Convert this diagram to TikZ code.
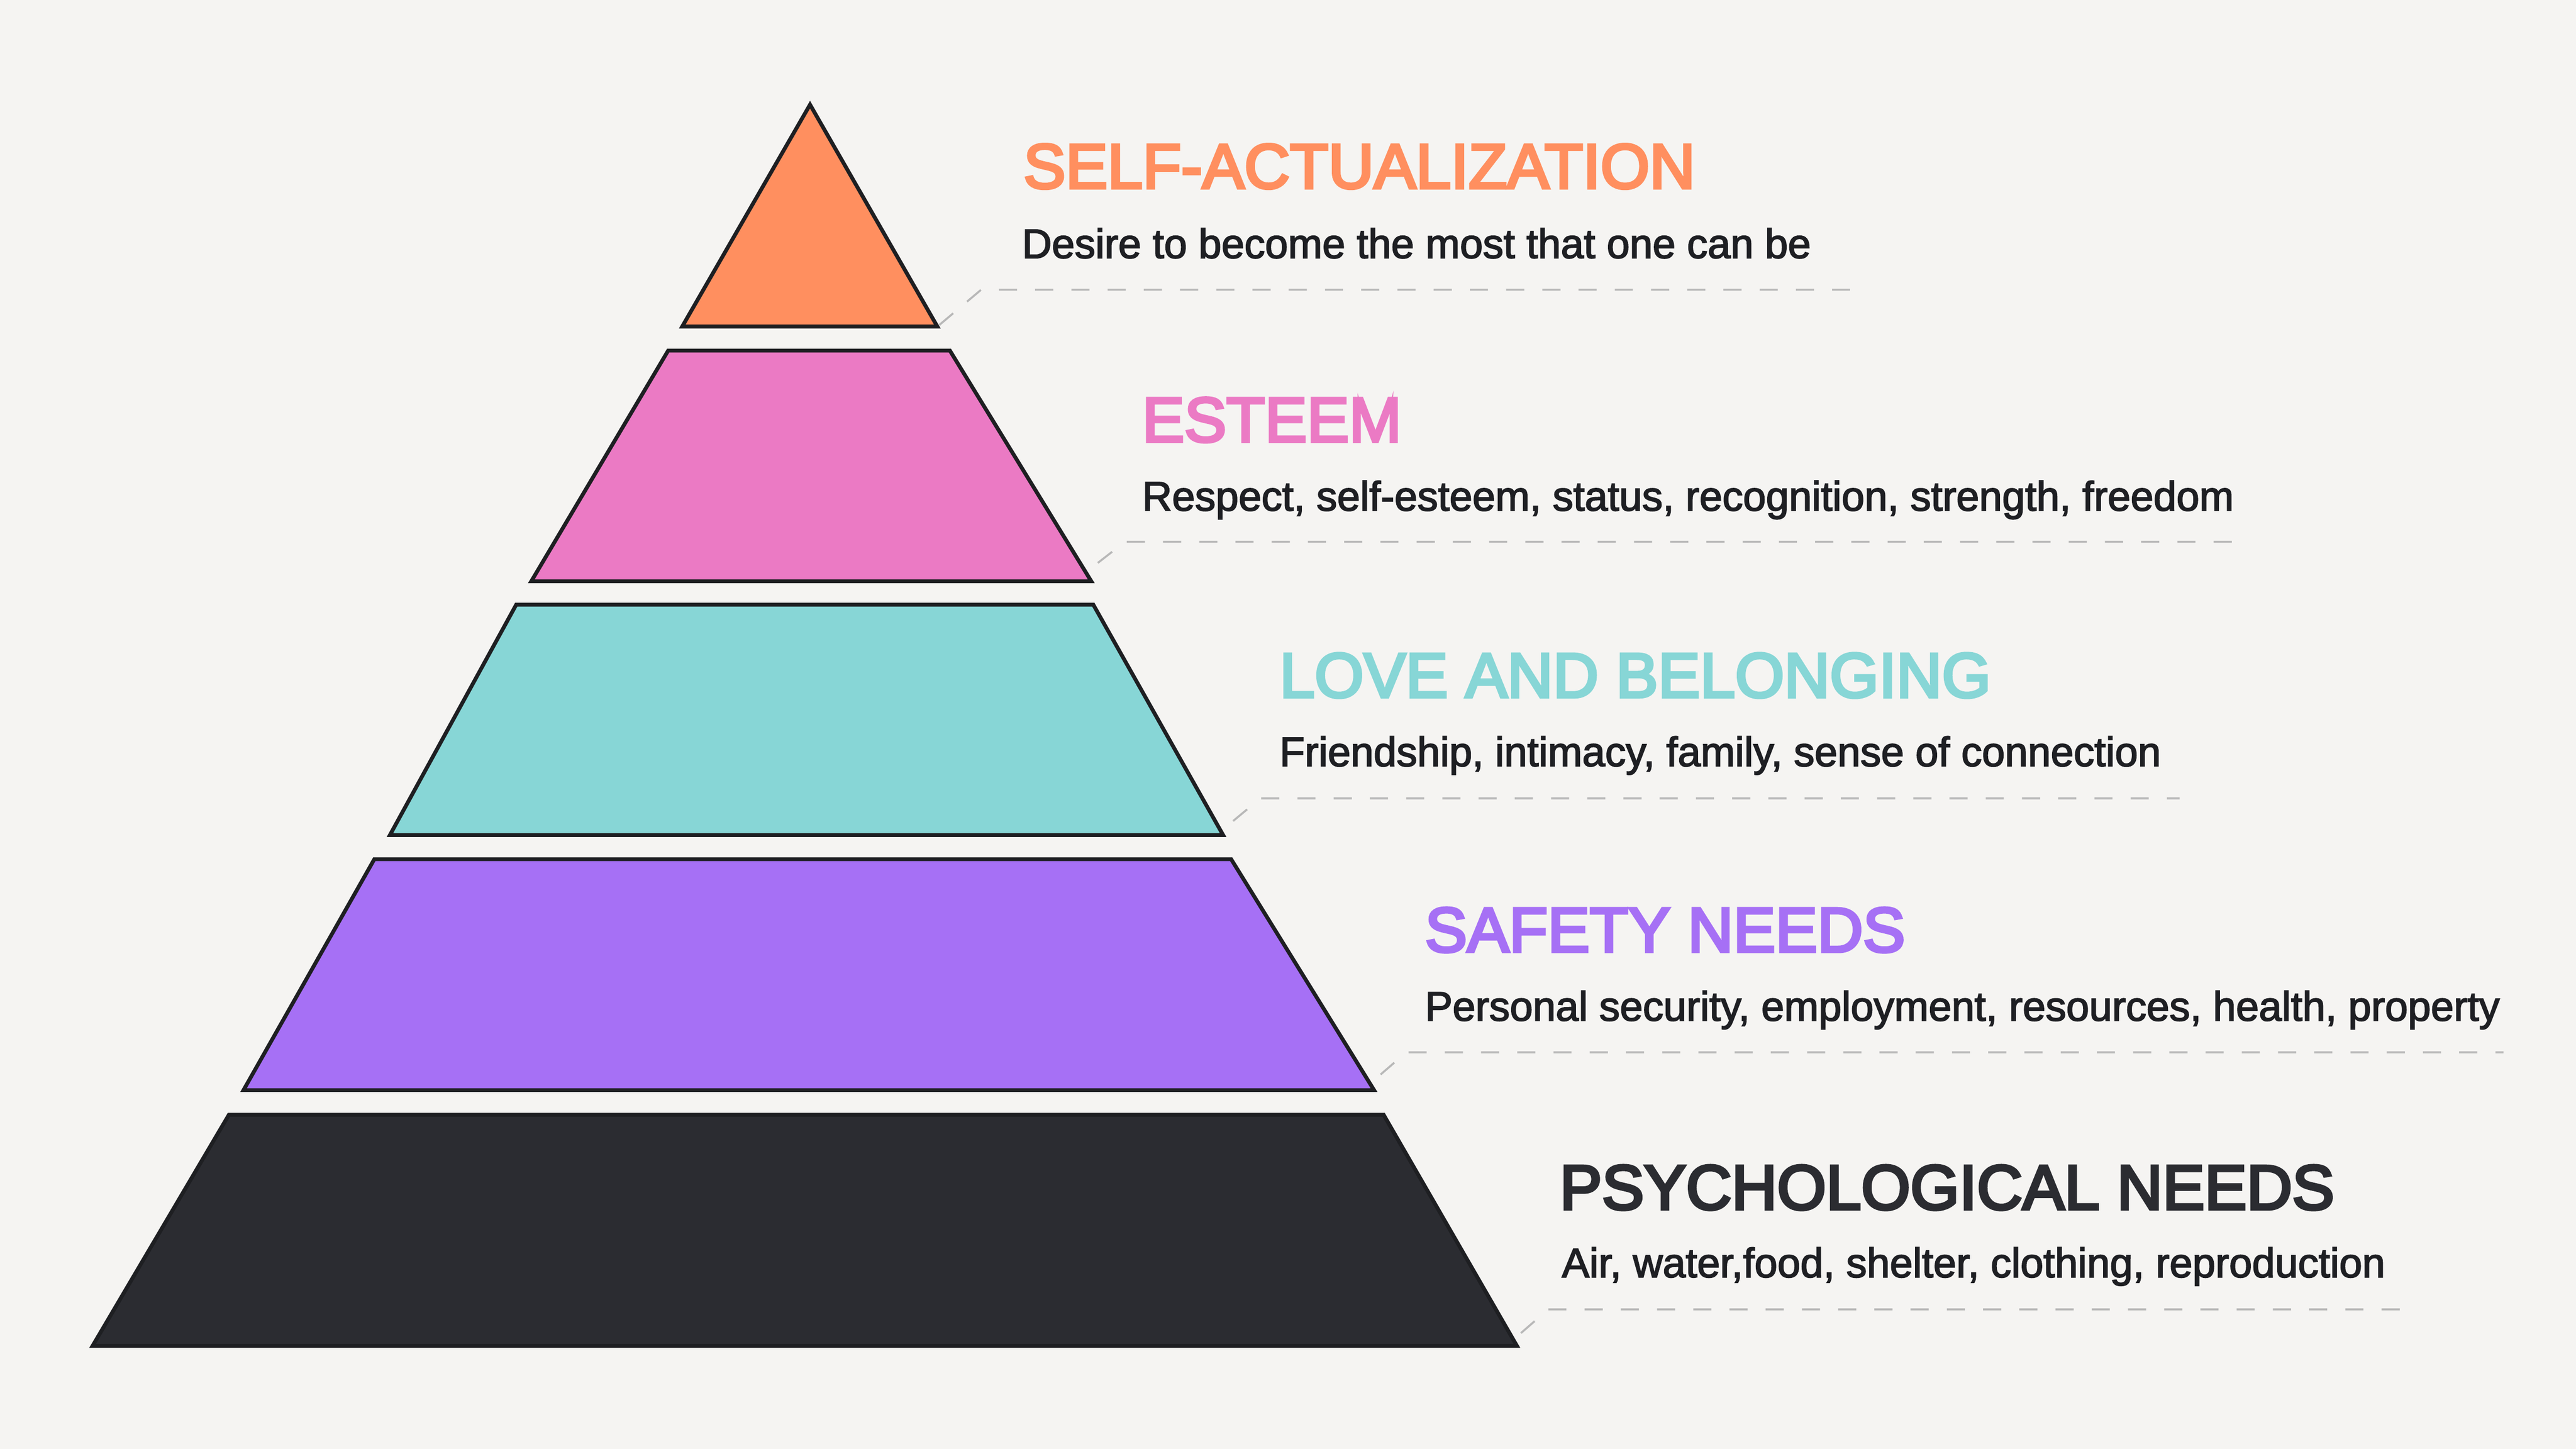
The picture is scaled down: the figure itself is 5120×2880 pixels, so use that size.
\documentclass[tikz,border=0pt]{standalone}
\usepackage{fontspec}
\setmainfont{Liberation Sans}
\newfontfamily\titlefont[FakeBold=4.5]{Liberation Sans}
\newfontfamily\descfont[FakeBold=2.5]{Liberation Sans}
\definecolor{cBg}{HTML}{F5F4F2}
\definecolor{cOrange}{HTML}{FF8F5F}
\definecolor{cPink}{HTML}{EB7AC4}
\definecolor{cTeal}{HTML}{87D6D6}
\definecolor{cPurple}{HTML}{A670F5}
\definecolor{cDark}{HTML}{2B2C31}
\definecolor{cStroke}{HTML}{1E1F22}
\definecolor{cText}{HTML}{1E1F23}
\definecolor{cDash}{HTML}{B8B8B8}
\begin{document}
\begin{tikzpicture}[x=0.15pt,y=-0.15pt,
  tier/.style={draw=cStroke, line width=1.15pt, line join=miter},
  leader/.style={draw=cDash, line width=0.6pt, dash pattern=on 5.4pt off 5.4pt},
  ttl/.style={anchor=base west, inner sep=0pt, font=\titlefont\fontsize{18.8}{22}\selectfont},
  dsc/.style={anchor=base west, inner sep=0pt, font=\descfont\fontsize{12.3}{15}\selectfont, text=cText}]
\useasboundingbox (0,0) rectangle (5120,2880);
\fill[cBg] (0,0) rectangle (5120,2880);

% tier vertices
\coordinate (oA) at (1610,208);
\coordinate (oL) at (1356,649);
\coordinate (oR) at (1863,649);
\coordinate (pTL) at (1328,697);
\coordinate (pTR) at (1888,697);
\coordinate (pBR) at (2169,1155.5);
\coordinate (pBL) at (1056,1155.5);
\coordinate (tTL) at (1026,1202);
\coordinate (tTR) at (2173,1202);
\coordinate (tBR) at (2431,1660);
\coordinate (tBL) at (775,1660);
\coordinate (vTL) at (744,1708);
\coordinate (vTR) at (2447,1708);
\coordinate (vBR) at (2731,2167);
\coordinate (vBL) at (484,2167);
\coordinate (dTL) at (455,2216);
\coordinate (dTR) at (2750,2216);
\coordinate (dBR) at (3015,2675.5);
\coordinate (dBL) at (184,2675.5);

\path[tier, fill=cOrange] (oA) -- (oR) -- (oL) -- cycle;
\path[tier, fill=cPink] (pTL) -- (pTR) -- (pBR) -- (pBL) -- cycle;
\path[tier, fill=cTeal] (tTL) -- (tTR) -- (tBR) -- (tBL) -- cycle;
\path[tier, fill=cPurple] (vTL) -- (vTR) -- (vBR) -- (vBL) -- cycle;
\path[tier, fill=cDark] (dTL) -- (dTR) -- (dBR) -- (dBL) -- cycle;

% leader lines
\coordinate (s1) at (1867,646);  \coordinate (b1) at (1950,576);  \coordinate (e1) at (3677,576);
\coordinate (s2) at (2182,1119); \coordinate (b2) at (2236,1077); \coordinate (e2) at (4469,1077);
\coordinate (s3) at (2451,1632); \coordinate (b3) at (2505,1587); \coordinate (e3) at (4332,1587);
\coordinate (s4) at (2744,2136); \coordinate (b4) at (2795,2092); \coordinate (e4) at (4976,2092);
\coordinate (s5) at (3023,2650); \coordinate (b5) at (3077,2603); \coordinate (e5) at (4790,2603);
\draw[leader] (s1) -- (b1) -- (e1);
\draw[leader] (s2) -- (b2) -- (e2);
\draw[leader] (s3) -- (b3) -- (e3);
\draw[leader] (s4) -- (b4) -- (e4);
\draw[leader] (s5) -- (b5) -- (e5);

% titles
\node[ttl, text=cOrange] (h1) at (2033,374) {SELF-ACTUALIZATION};
\node[ttl, text=cPink] (h2) at (2269,878) {ESTEEM};
\node[ttl, text=cTeal] (h3) at (2542,1386) {LOVE AND BELONGING};
\node[ttl, text=cPurple] (h4) at (2831,1892) {SAFETY NEEDS};
\node[ttl, text=cDark] (h5) at (3099,2404) {PSYCHOLOGICAL NEEDS};

% descriptions
\node[dsc] (d1) at (2030,513) {Desire to become the most that one can be};
\node[dsc] (d2) at (2269,1015) {Respect, self-esteem, status, recognition, strength, freedom};
\node[dsc] (d3) at (2542,1523) {Friendship, intimacy, family, sense of connection};
\node[dsc] (d4) at (2831,2029) {Personal security, employment, resources, health, property};
\node[dsc] (d5) at (3103,2539) {Air, water,food, shelter, clothing, reproduction};
\end{tikzpicture}
\end{document}
